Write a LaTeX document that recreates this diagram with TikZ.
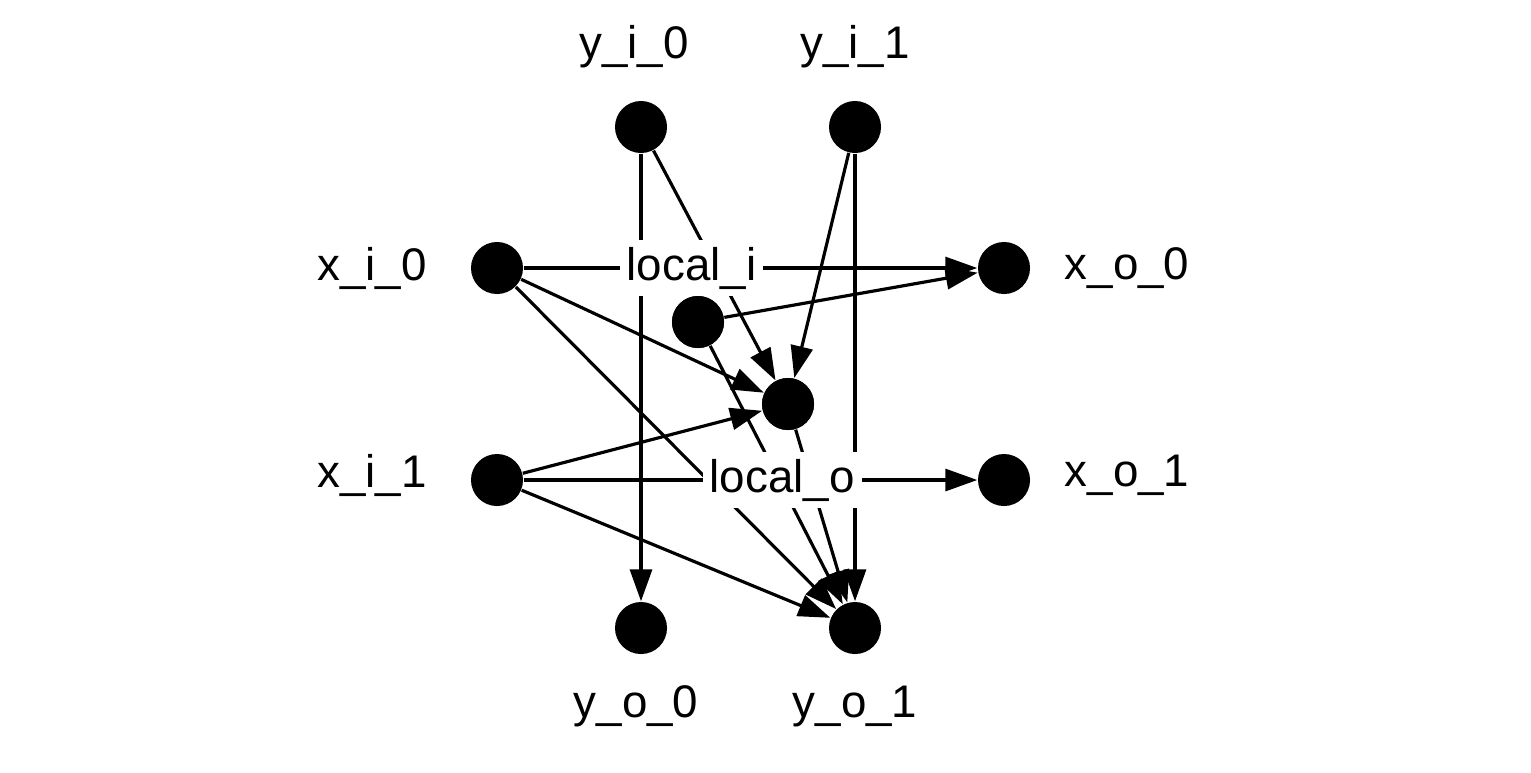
\documentclass[tikz,border=0pt]{standalone}
\usepackage{fontspec}
\setmainfont{Liberation Sans}
\usetikzlibrary{arrows.meta}
\begin{document}
\begin{tikzpicture}[x=0.01cm,y=-0.01cm,
  dot/.style={circle,fill=black,minimum size=0.52cm,inner sep=0pt},
  lab/.style={font=\fontsize{13}{15}\selectfont},
  elab/.style={font=\fontsize{13}{15}\selectfont,fill=white,inner sep=2pt},
  edge/.style={line width=0.9pt,-{Triangle[length=0.32cm,width=0.22cm]}}]
\useasboundingbox (0,0) rectangle (1531,772);
\node[dot] (yi0) at (641,127) {};
\node[dot] (yi1) at (855,127) {};
\node[dot] (xi0) at (497,268) {};
\node[dot] (xo0) at (1004,268) {};
\node[dot] (li) at (698,322) {};
\node[dot] (c) at (788,404) {};
\node[dot] (xi1) at (497,480) {};
\node[dot] (xo1) at (1004,480) {};
\node[dot] (yo0) at (641,628) {};
\node[dot] (yo1) at (855,628) {};
\node[lab] (tyi0) at (634,47) {y\_i\_0};
\node[lab] (tyi1) at (855,47) {y\_i\_1};
\node[lab] (txi0) at (372,268) {x\_i\_0};
\node[lab] (txo0) at (1127,268) {x\_o\_0};
\node[lab] (txi1) at (372,475) {x\_i\_1};
\node[lab] (txo1) at (1127,475) {x\_o\_1};
\node[lab] (tyo0) at (636,706) {y\_o\_0};
\node[lab] (tyo1) at (855,706) {y\_o\_1};
% edges (drawn under labels)
\draw[edge] (yi0) -- (yo0);
\draw[edge] (yi0) -- (c);
\draw[edge] (yi1) -- (c);
\draw[edge] (yi1) -- (yo1);
\draw[edge] (xi0) -- (c);
\draw[edge] (xi0) -- (yo1);
\draw[edge] (li) -- (xo0);
\draw[edge] (li) -- (yo1);
\draw[edge] (xi1) -- (c);
\draw[edge] (xi1) -- (yo1);
\draw[edge] (c) -- (yo1);
\draw[edge] (xi0) -- node[elab,pos=0.37] (lli) {local\_i} (xo0);
\draw[edge] (xi1) -- node[elab,pos=0.57] (llo) {local\_o} (xo1);
\node[dot] at (li) {};
\node[dot] at (c) {};
\end{tikzpicture}
\end{document}
